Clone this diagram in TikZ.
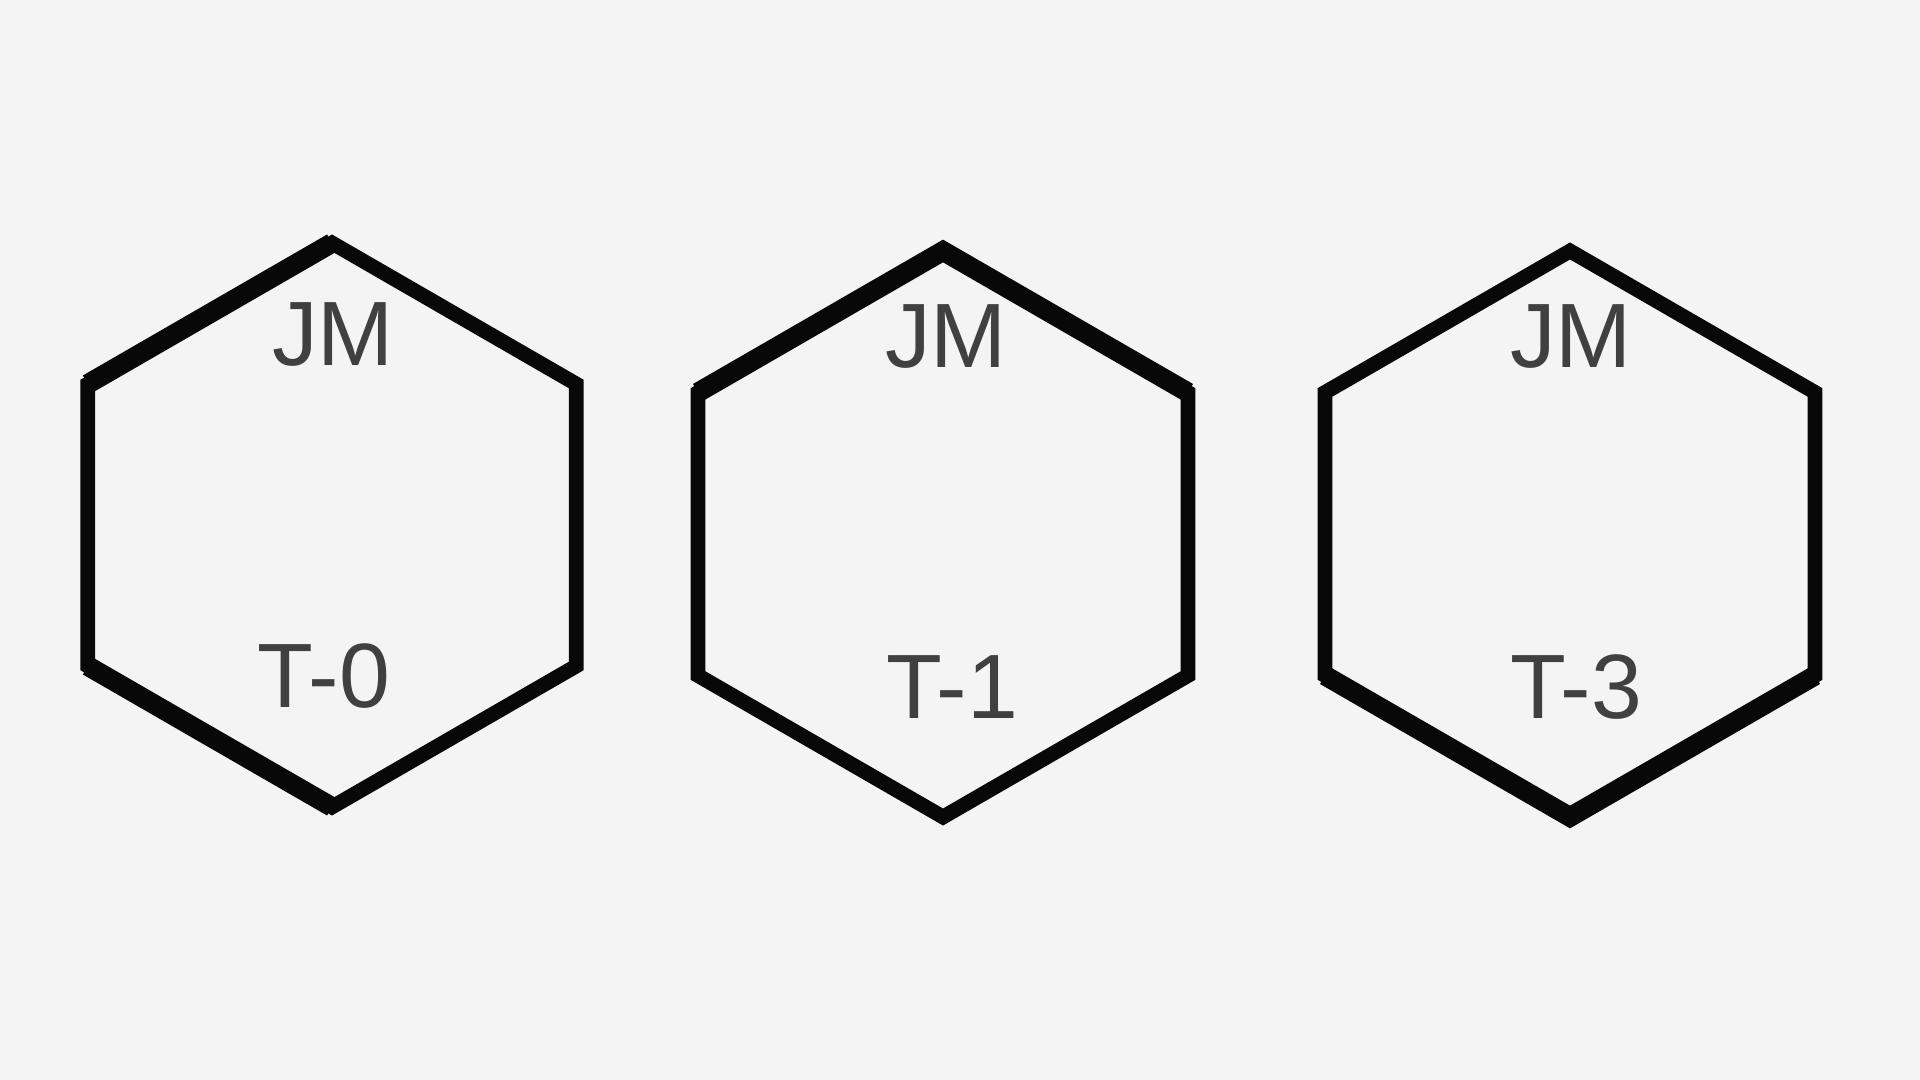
\documentclass[tikz,border=0pt]{standalone}
\usepackage{fontspec}
\setmainfont{Liberation Sans}
\usepackage{xcolor}
\definecolor{scan-white}{HTML}{F4F4F4}
\definecolor{scan-black}{HTML}{080808}
\definecolor{scan-grey}{HTML}{404040}
\usepackage{tikz}

\tikzset{
    hexline/.style={draw=scan-black, line width=4.2pt, line join=miter},
    hexheavy/.style={draw=scan-black, line width=5.6pt, line join=miter},
    stamp/.style={text=scan-grey, font=\fontsize{26}{26}\selectfont, inner sep=0pt}
}

\begin{document}
\begin{tikzpicture}

    % Background
    \fill[scan-white] (0, 0) rectangle (19.2, 10.8);

    % Nut T-0
    \begin{scope}[shift={(3.32, 5.55)}]
        \draw[hexline] (90:2.82) -- (150:2.82) -- (210:2.82) -- (270:2.82) -- (330:2.82) -- (30:2.82) -- cycle;
        \draw[hexheavy] (150:2.82) -- (90:2.82);
        \draw[hexheavy] (210:2.82) -- (270:2.82);
        \node[stamp] (jm-0) at (0.01, 1.90) {JM};
        \node[stamp] (t-0) at (-0.08, -1.51) {T-0};
    \end{scope}

    % Nut T-1
    \begin{scope}[shift={(9.43, 5.46)}]
        \draw[hexline] (90:2.83) -- (150:2.83) -- (210:2.83) -- (270:2.83) -- (330:2.83) -- (30:2.83) -- cycle;
        \draw[hexheavy] (150:2.83) -- (90:2.83) -- (30:2.83);
        \node[stamp] (jm-1) at (0.03, 1.97) {JM};
        \node[stamp] (t-1) at (0.09, -1.53) {T-1};
    \end{scope}

    % Nut T-3
    \begin{scope}[shift={(15.70, 5.46)}]
        \draw[hexline] (90:2.83) -- (150:2.83) -- (210:2.83) -- (270:2.83) -- (330:2.83) -- (30:2.83) -- cycle;
        \draw[hexheavy] (210:2.83) -- (270:2.83) -- (330:2.83);
        \node[stamp] (jm-3) at (0.01, 1.97) {JM};
        \node[stamp] (t-3) at (0.06, -1.53) {T-3};
    \end{scope}

\end{tikzpicture}
\end{document}
